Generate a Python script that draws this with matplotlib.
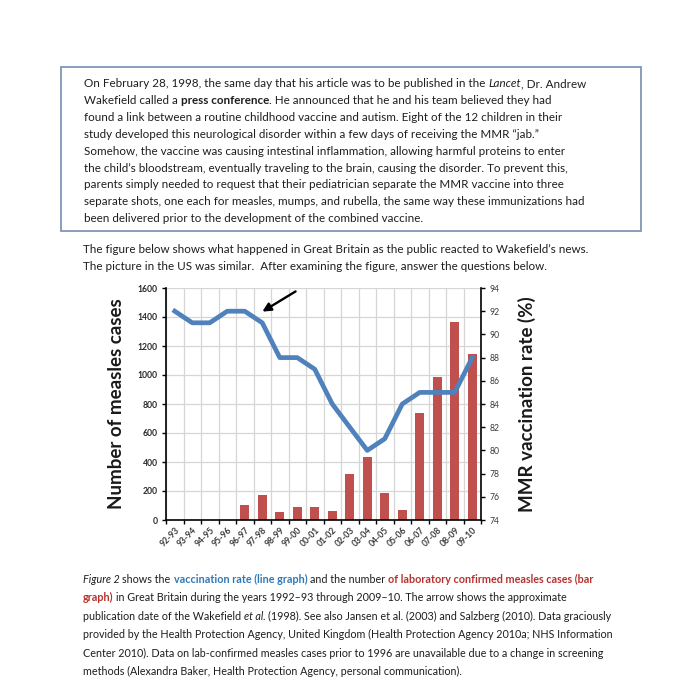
import matplotlib.pyplot as plt
import numpy as np

W, H = 700, 694
FONT = 'Lato'
TXT = '#1e1e1e'
BLUE_TXT = '#2f78b7'
RED_TXT = '#b5322e'

# %% data
seasons = ['92-93', '93-94', '94-95', '95-96', '96-97', '97-98', '98-99',
           '99-00', '00-01', '01-02', '02-03', '03-04', '04-05', '05-06',
           '06-07', '07-08', '08-09', '09-10']
cases = [0, 0, 0, 0, 105, 170, 52, 87, 93, 65, 315, 433, 183, 72,
         736, 985, 1368, 1144]
rate = [92, 91, 91, 92, 92, 91, 88, 88, 87, 84, 82, 80, 81, 84,
        85, 85, 85, 88]
case_ticks = np.arange(0, 1601, 200)
rate_ticks = np.arange(74, 95, 2)
arrow_season = '97-98'

box_lines = [
    [('On February 28, 1998, the same day that his article was to be published in the', {}),
     ('Lancet', {'style': 'italic'}), (', Dr. Andrew', {'join': True})],
    [('Wakefield called a', {}), ('press conference', {'weight': 'bold'}),
     ('. He announced that he and his team believed they had', {'join': True})],
    [('found a link between a routine childhood vaccine and autism. Eight of the 12 children in their', {})],
    [('study developed this neurological disorder within a few days of receiving the MMR \u201cjab.\u201d', {})],
    [('Somehow, the vaccine was causing intestinal inflammation, allowing harmful proteins to enter', {})],
    [('the child\u2019s bloodstream, eventually traveling to the brain, causing the disorder. To prevent this,', {})],
    [('parents simply needed to request that their pediatrician separate the MMR vaccine into three', {})],
    [('separate shots, one each for measles, mumps, and rubella, the same way these immunizations had', {})],
    [('been delivered prior to the development of the combined vaccine.', {})],
]
mid_lines = [
    [('The figure below shows what happened in Great Britain as the public reacted to Wakefield\u2019s news.', {})],
    [('The picture in the US was similar.  After examining the figure, answer the questions below.', {})],
]
cap_lines = [
    [('Figure 2', {'style': 'italic'}), ('shows the', {}),
     ('vaccination rate (line graph)', {'weight': 'bold', 'color': BLUE_TXT}),
     ('and the number', {}),
     ('of laboratory confirmed measles cases (bar', {'weight': 'bold', 'color': RED_TXT})],
    [('graph)', {'weight': 'bold', 'color': RED_TXT}),
     ('in Great Britain during the years 1992\u201393 through 2009\u201310. The arrow shows the approximate', {})],
    [('publication date of the Wakefield', {}), ('et al.', {'style': 'italic'}),
     ('(1998). See also Jansen et al. (2003) and Salzberg (2010). Data graciously', {})],
    [('provided by the Health Protection Agency, United Kingdom (Health Protection Agency 2010a; NHS Information', {})],
    [('Center 2010). Data on lab-confirmed measles cases prior to 1996 are unavailable due to a change in screening', {})],
    [('methods (Alexandra Baker, Health Protection Agency, personal communication).', {})],
]


# %%
def text_width(fig, s, size, **kw):
    r = fig.canvas.get_renderer()
    t = fig.text(0, 0, s, fontsize=size, family=FONT, **kw)
    w = t.get_window_extent(r).width
    t.remove()
    return w


def rich_line(fig, x, y, parts, size):
    space = text_width(fig, 'a a', size) - text_width(fig, 'aa', size)
    for k, (s, style) in enumerate(parts):
        style = dict(style)
        join = style.pop('join', False)
        if k > 0 and not join:
            x += space
        t = fig.text(x / W, 1 - y / H, s, fontsize=size, family=FONT,
                     color=style.pop('color', TXT), ha='left', va='baseline',
                     **style)
        x += t.get_window_extent(fig.canvas.get_renderer()).width


def fit_size(fig, line, target):
    s = ''.join(p[0] for p in line)
    return 10 * target / text_width(fig, s, 10)


fig = plt.figure(figsize=(W / 100, H / 100), dpi=100)

# text box at top
box = plt.Rectangle((61 / W, 1 - 231 / H), 580 / W, 164 / H,
                    transform=fig.transFigure, fill=False,
                    edgecolor='#8196b4', lw=1.3)
fig.patches.append(box)

size = fit_size(fig, box_lines[0], 499)
for i, line in enumerate(box_lines):
    rich_line(fig, 84, 87 + 16.9 * i, line, size)
for i, line in enumerate(mid_lines):
    rich_line(fig, 83, 253 + 17 * i, line, size)
size_c = fit_size(fig, cap_lines[3], 526)
for i, line in enumerate(cap_lines):
    rich_line(fig, 83, 583 + 18.4 * i, line, size_c)

# %% chart
ax = fig.add_axes([166 / W, 1 - 520 / H, 315 / W, 232 / H])
x = np.arange(len(seasons))
ax.bar(x, cases, width=0.5, color='#c0504d', zorder=2)
ax.set_xlim(-0.5, len(seasons) - 0.5)
ax.set_ylim(0, 1600)
ax.set_yticks(case_ticks)
ax.set_yticklabels([str(v) for v in case_ticks], fontsize=6.2,
                   fontweight='bold', family=FONT, color='#2a2a2a')
ax.set_xticks(np.arange(-0.5, len(seasons)), minor=False)
ax.set_xticklabels([])
ax.set_xticks(x, minor=True)
ax.set_xticklabels(seasons, minor=True, rotation=45, ha='right',
                   rotation_mode='anchor', fontsize=6.2, fontweight='bold',
                   family=FONT, color='#3a3a3a')
ax.tick_params(axis='x', which='minor', length=0, pad=4)
ax.tick_params(axis='x', which='major', length=3, width=1, direction='out')
ax.tick_params(axis='y', length=3, width=1, pad=3)
ax.grid(True, which='major', color='#d6d6d6', lw=0.9, zorder=0)
ax.set_axisbelow(True)
for side in ['top', 'right']:
    ax.spines[side].set_visible(False)
ax.spines['left'].set_linewidth(1.2)
ax.spines['bottom'].set_linewidth(1.2)
ax.set_ylabel('Number of measles cases', fontsize=13.5, family=FONT,
              fontweight='bold', color='#1a1a1a', labelpad=9)

ax2 = ax.twinx()
ax2.plot(x, rate, color='#4f81bd', lw=3.4, solid_joinstyle='round', zorder=3)
ax2.set_ylim(74, 94)
ax2.set_yticks(rate_ticks)
ax2.set_yticklabels([str(v) for v in rate_ticks], fontsize=6.2,
                    family=FONT, color='#3a3a3a')
ax2.tick_params(axis='y', length=3, width=1, pad=3)
for side in ['top', 'left', 'bottom']:
    ax2.spines[side].set_visible(False)
ax2.spines['right'].set_linewidth(1.2)
ax2.set_ylabel('MMR vaccination rate (%)', fontsize=13.5, family=FONT,
               fontweight='bold', color='#1a1a1a', labelpad=13)

i = seasons.index(arrow_season)
ax2.annotate('', xy=(i - 0.13, rate[i] + 0.84), xytext=(i + 2.04, rate[i] + 2.83),
             arrowprops=dict(arrowstyle='-|>,head_length=0.5,head_width=0.25',
                             color='black', lw=1.7), annotation_clip=False)

plt.savefig('out.png', dpi=100)
plt.close(fig)
